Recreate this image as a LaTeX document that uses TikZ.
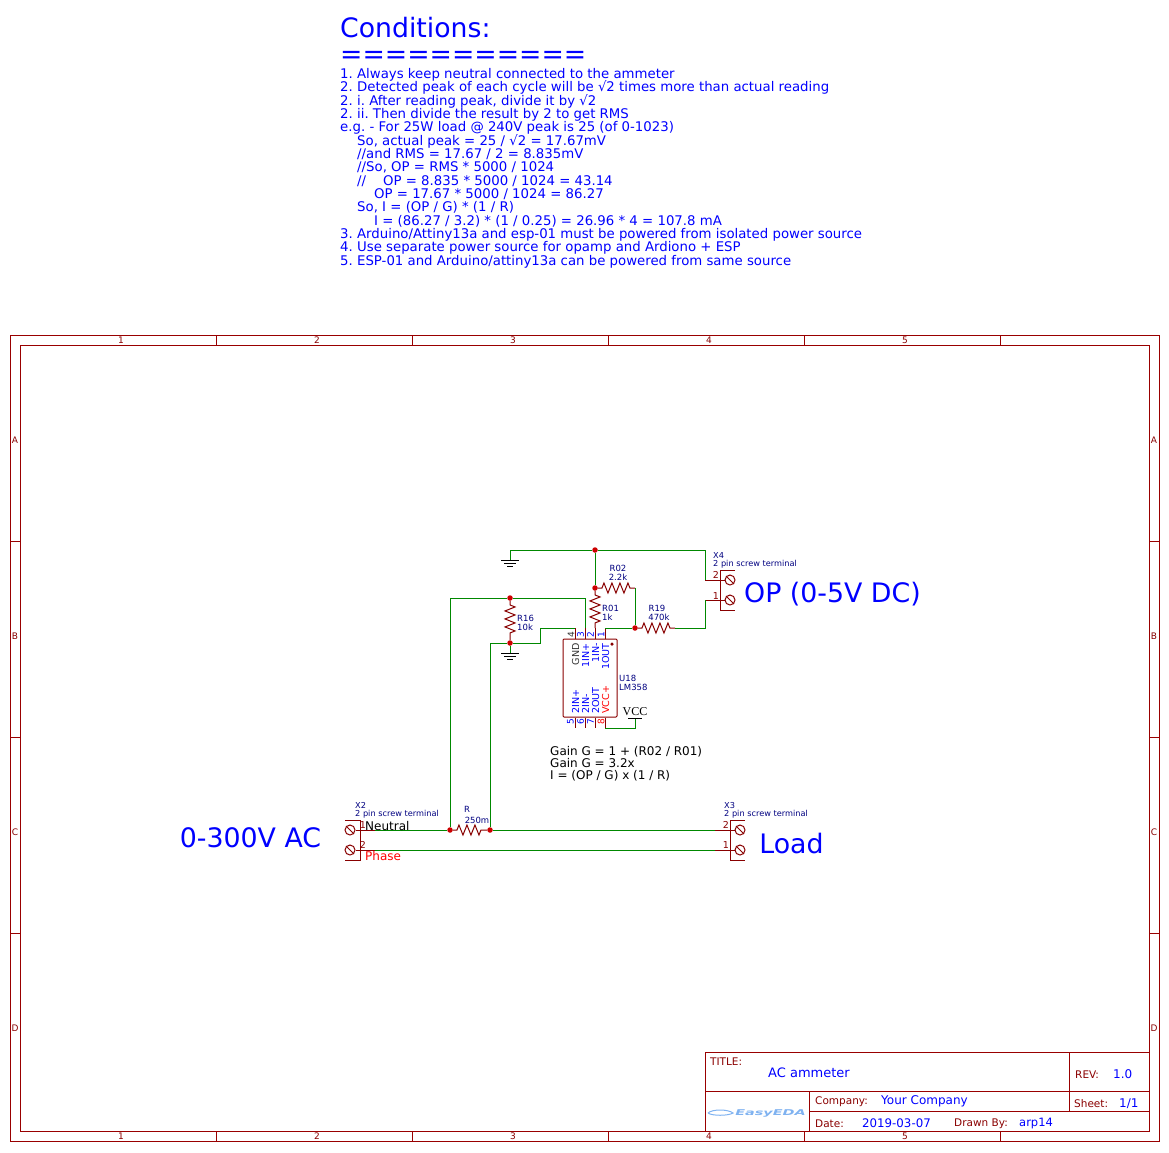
\documentclass[tikz,border=0pt]{standalone}
\usepackage{fontspec}
\setmainfont{DejaVu Sans}
\newfontfamily\vccfont{Liberation Serif}
\usepackage{xcolor}
\usepackage{tikz}
\usetikzlibrary{decorations.pathmorphing}

\definecolor{framered}{HTML}{990000}
\definecolor{pinred}{HTML}{880000}
\definecolor{wiregreen}{HTML}{008800}
\definecolor{labelblue}{HTML}{000080}
\definecolor{logoblue}{HTML}{7FB2F0}

\newcommand{\fsz}[1]{\fontsize{#1}{#1}\selectfont}
\newcommand{\tightlines}{\lineskiplimit=-100pt\relax}
\frenchspacing

\tikzset{
  wire/.style={draw=wiregreen,line width=1pt},
  pinline/.style={draw=pinred,line width=1pt},
  frameline/.style={draw=framered,line width=1pt},
  reszig/.style={draw=pinred,line width=1pt,decorate,
    decoration={zigzag,amplitude=5pt,segment length=8pt,pre length=4pt,post length=4pt}},
  dot/.style={circle,fill=red!80!black,inner sep=0pt,minimum size=5.5pt},
  screw/.style={circle,draw=pinred,line width=1pt,inner sep=0pt,minimum size=10pt},
  gridtxt/.style={text=pinred,font=\fsz{9},inner sep=0pt},
  parttxt/.style={text=labelblue,font=\fsz{8.5},inner sep=0pt,anchor=west},
  termtxt/.style={parttxt,font=\fsz{8.2}},
  pintxt/.style={text=blue,font=\fsz{9.6},inner sep=0pt,rotate=90},
  pinnum/.style={text=blue,font=\fsz{9},inner sep=0pt,rotate=90},
  numtxt/.style={text=pinred,font=\fsz{9.5},inner sep=0pt},
  bigtxt/.style={text=blue,font=\fsz{26.8},inner sep=0pt},
  blocktxt/.style={text=framered!90!black,font=\fsz{10.5},inner sep=0pt,anchor=west},
  valtxt/.style={text=blue,font=\fsz{12},inner sep=0pt,anchor=west},
}

\begin{document}
\begin{tikzpicture}[x=1pt,y=-1pt]
   \useasboundingbox (0,0) rectangle (1169,1152);

   % notes on top
   \node[text=blue,inner sep=0pt,anchor=north west,font=\fsz{26.7}] (head) at (340,17) {Conditions:};
   \node[text=blue,inner sep=0pt,anchor=north west,font=\fsz{26.7}] (rule) at (340,51) {===========};
   \node[text=blue,inner sep=0pt,anchor=north west,align=left,font=\fontsize{13.3}{13.36}\selectfont\tightlines] (notes) at (340,68) {%
     1. Always keep neutral connected to the ammeter\\
     2. Detected peak of each cycle will be √2 times more than actual reading\\
     2. i. After reading peak, divide it by √2\\
     2. ii. Then divide the result by 2 to get RMS\\
     e.g. - For 25W load @ 240V peak is 25 (of 0-1023)\\
     \hspace*{17pt}So, actual peak = 25 / √2 = 17.67mV\\
     \hspace*{17pt}//and RMS = 17.67 / 2 = 8.835mV\\
     \hspace*{17pt}//So, OP = RMS * 5000 / 1024\\
     \hspace*{17pt}//\hspace*{17pt}OP = 8.835 * 5000 / 1024 = 43.14\\
     \hspace*{34pt}OP = 17.67 * 5000 / 1024 = 86.27\\
     \hspace*{17pt}So, I = (OP / G) * (1 / R)\\
     \hspace*{34pt}I = (86.27 / 3.2) * (1 / 0.25) = 26.96 * 4 = 107.8 mA\\
     3. Arduino/Attiny13a and esp-01 must be powered from isolated power source\\
     4. Use separate power source for opamp and Ardiono + ESP\\
     5. ESP-01 and Arduino/attiny13a can be powered from same source};

   % sheet frame
   \draw[frameline] (10,335) rectangle (1159,1141);
   \draw[frameline] (20,345) rectangle (1149,1131);
   \foreach \x in {216,412,608,804,1000} {
     \draw[frameline] (\x,335) -- (\x,345);
     \draw[frameline] (\x,1131) -- (\x,1141);
   }
   \foreach \y in {541,737,933} {
     \draw[frameline] (10,\y) -- (20,\y);
     \draw[frameline] (1149,\y) -- (1159,\y);
   }
   \foreach \n [count=\i from 0] in {1,2,3,4,5} {
     \node[gridtxt] at (121+196*\i,340.5) {\n};
     \node[gridtxt] at (121+196*\i,1136.5) {\n};
   }
   \foreach \n [count=\i from 0] in {A,B,C,D} {
     \node[gridtxt] at (15,440+196*\i) {\n};
     \node[gridtxt] at (1154,440+196*\i) {\n};
   }

   % title block
   \draw[frameline] (705,1052) rectangle (1149,1131);
   \draw[frameline] (705,1091) -- (1149,1091);
   \draw[frameline] (809,1111) -- (1149,1111);
   \draw[frameline] (1069,1052) -- (1069,1111);
   \draw[frameline] (809,1091) -- (809,1131);
   \node[blocktxt] (ttl) at (710,1062) {TITLE:};
   \node[valtxt,font=\fsz{13}] (ttlval) at (768,1072.5) {AC ammeter};
   \node[blocktxt] (rev) at (1075,1075) {REV:};
   \node[valtxt] (revval) at (1113,1074) {1.0};
   \node[blocktxt] (comp) at (815,1102) {Company:};
   \node[valtxt] (compval) at (881,1101.5) {Your Company};
   \node[blocktxt] (sheet) at (1074,1104) {Sheet:};
   \node[valtxt] (sheetval) at (1119,1103.5) {1/1};
   \node[blocktxt] (date) at (815,1124) {Date:};
   \node[valtxt,font=\fsz{11.8}] (dateval) at (862,1123.5) {2019-03-07};
   \node[blocktxt] (drawn) at (954,1124) {Drawn By:};
   \node[valtxt,font=\fsz{11.5}] (drawnval) at (1019,1123.5) {arp14};
   \node[inner sep=0pt,anchor=west,text=logoblue,font=\fsz{8}\bfseries\itshape,xscale=1.8] (logo) at (735,1113) {EasyEDA};
   \draw[logoblue,line width=1pt] (708,1113) .. controls (712,1109) and (728,1109) .. (733,1113) .. controls (728,1116) and (712,1116) .. (708,1113);

   % junctions
   \node[dot] (j_top) at (595,550) {};
   \node[dot] (j_r02) at (595,588) {};
   \node[dot] (j_fb)  at (635,628) {};
   \node[dot] (j_r16) at (510,598) {};
   \node[dot] (j_low) at (510,643) {};
   \node[dot] (j_ra)  at (450,830) {};
   \node[dot] (j_rb)  at (490,830) {};

   % free ends
   \coordinate (gnd_a) at (510,560);
   \coordinate (gnd_b) at (510,653);
   \coordinate (r02_e) at (635,588);
   \coordinate (r19_e) at (675,628);
   \coordinate (r01_e) at (595,628);

   % IC
   \node[draw=pinred,line width=1pt,rounded corners=1pt,minimum width=54pt,minimum height=78pt,inner sep=0pt] (u18) at (590,678) {};
   \node[circle,fill=pinred,inner sep=0pt,minimum size=3.5pt] (u18_dot) at (612,644) {};
   \foreach \x/\i in {575/4,585/3,595/2,605/1} {
     \coordinate (p\i) at (\x,628);
     \coordinate (p\i i) at (\x,639);
     \draw[pinline] (p\i i) -- (p\i);
   }
   \foreach \x/\i in {575/5,585/6,595/7,605/8} {
     \coordinate (p\i) at (\x,728);
     \coordinate (p\i i) at (\x,718);
     \draw[pinline] (p\i i) -- (p\i);
   }
   \node[pintxt,anchor=east,text=black!80] at (575.5,643) {GND};
   \node[pintxt,anchor=east] at (585.5,643) {1IN+};
   \node[pintxt,anchor=east] at (595.5,643) {1IN-};
   \node[pintxt,anchor=east] at (605.5,643) {1OUT};
   \node[pintxt,anchor=west] at (575.5,714) {2IN+};
   \node[pintxt,anchor=west] at (585.5,714) {2IN-};
   \node[pintxt,anchor=west] at (595.5,714) {2OUT};
   \node[pintxt,anchor=west,text=red] at (605.5,714) {VCC+};
   \node[pinnum,text=black!80] at (571,634.5) {4};
   \node[pinnum] at (580.5,634.5) {3};
   \node[pinnum] at (590.5,634.5) {2};
   \node[pinnum] at (601,634.5) {1};
   \node[pinnum] at (570.5,722) {5};
   \node[pinnum] at (580.5,722) {6};
   \node[pinnum] at (590.5,722) {7};
   \node[pinnum,text=red] at (601,722) {8};
   \node[parttxt] (u18_a) at (619,678) {U18};
   \node[parttxt] (u18_b) at (619,687) {LM358};

   % resistors
   \draw[reszig] (j_r02) -- (r02_e);
   \draw[reszig] (j_r02) -- (r01_e);
   \draw[reszig] (j_fb) -- (r19_e);
   \draw[reszig] (j_r16) -- (j_low);
   \draw[reszig] (j_ra) -- (j_rb);
   \node[parttxt,anchor=center] (r02_a) at (618,568) {R02};
   \node[parttxt,anchor=center] (r02_b) at (618,577) {2.2k};
   \node[parttxt] (r01_a) at (602,608) {R01};
   \node[parttxt] (r01_b) at (602,617) {1k};
   \node[parttxt,anchor=center] (r19_a) at (657,608) {R19};
   \node[parttxt,anchor=center] (r19_b) at (659,617) {470k};
   \node[parttxt] (r16_a) at (517,618) {R16};
   \node[parttxt] (r16_b) at (517,627) {10k};
   \node[parttxt,anchor=center] (r_a) at (467,809.5) {R};
   \node[parttxt,anchor=center] (r_b) at (477,820.5) {250m};

   % terminals
   \foreach \nm/\cx/\by/\bx/\ex/\px in {xtwo/350/820/360/345/375,xthree/740/820/730/745/715,xfour/730/570/720/735/705} {
     \draw[pinline] (\ex,\by) -- (\bx,\by) -- (\bx,\by+40) -- (\ex,\by+40);
     \node[screw] (\nm_a) at (\cx,\by+10) {};
     \node[screw] (\nm_b) at (\cx,\by+30) {};
     \draw[pinline] (\nm_a.north west) -- (\nm_a.south east);
     \draw[pinline] (\nm_b.north west) -- (\nm_b.south east);
     \coordinate (\nm_pa) at (\px,\by+10);
     \coordinate (\nm_pb) at (\px,\by+30);
   }
   \draw[pinline] (xtwo_a.east) -- (xtwo_pa);
   \draw[pinline] (xtwo_b.east) -- (xtwo_pb);
   \draw[pinline] (xthree_pa) -- (xthree_a.west);
   \draw[pinline] (xthree_pb) -- (xthree_b.west);
   \draw[pinline] (xfour_pa) -- (xfour_a.west);
   \draw[pinline] (xfour_pb) -- (xfour_b.west);
   \node[numtxt] at (363,825) {1};
   \node[numtxt] at (363,845) {2};
   \node[numtxt] at (726,825) {2};
   \node[numtxt] at (726,845) {1};
   \node[numtxt] at (716,575) {2};
   \node[numtxt] at (716,596) {1};
   \node[termtxt] (x2_a) at (355,805) {X2};
   \node[termtxt] (x2_b) at (355,814.5) {2 pin screw terminal};
   \node[termtxt] (x3_a) at (724,805) {X3};
   \node[termtxt] (x3_b) at (724,814.5) {2 pin screw terminal};
   \node[termtxt] (x4_a) at (713,555) {X4};
   \node[termtxt] (x4_b) at (713,564.5) {2 pin screw terminal};

   % wires
   \draw[wire] (gnd_a) |- (j_top);
   \draw[wire] (j_top) -- (705,550) |- (xfour_pa);
   \draw[wire] (j_top) -- (j_r02);
   \draw[wire] (r02_e) -- (j_fb);
   \draw[wire] (p1) -- (j_fb);
   \draw[wire] (r19_e) -- (705,628) |- (xfour_pb);
   \draw[wire] (p3) |- (j_r16);
   \draw[wire] (j_r16) -| (j_ra);
   \draw[wire] (j_low) -- (gnd_b);
   \draw[wire] (j_rb) |- (j_low);
   \draw[wire] (j_low) -- (540,643) -- (540,628) -- (p4);
   \draw[wire] (xtwo_pa) -- (j_ra);
   \draw[wire] (j_rb) -- (xthree_pa);
   \draw[wire] (xtwo_pb) -- (xthree_pb);
   \draw[wire] (p8) -- (635,728) -- (635,719);

   % power symbols
   \foreach \c in {gnd_a,gnd_b} {
     \draw[draw=black,line width=.8pt] ([xshift=-9pt]\c) -- ([xshift=9pt]\c);
     \draw[draw=black,line width=.8pt] ([xshift=-6pt,yshift=-3pt]\c) -- ([xshift=6pt,yshift=-3pt]\c);
     \draw[draw=black,line width=.8pt] ([xshift=-3pt,yshift=-6pt]\c) -- ([xshift=3pt,yshift=-6pt]\c);
   }
   \draw[draw=black,line width=.8pt] (628,718.5) -- (642,718.5);
   \node[inner sep=0pt,font=\vccfont\fsz{12}] (vcc) at (635,712) {VCC};

   % annotation
   \node[inner sep=0pt,anchor=north west,align=left,font=\fontsize{12}{12}\selectfont] (gain) at (550,746) {Gain G = 1 + (R02 / R01)\\Gain G = 3.2x\\I = (OP / G) x (1 / R)};
   \node[inner sep=0pt,anchor=west,font=\fsz{12}] (neutral) at (365,826) {Neutral};
   \node[inner sep=0pt,anchor=west,text=red,font=\fsz{12}] (phase) at (365,856.5) {Phase};
   \node[bigtxt] (ac) at (250.5,838) {0-300V AC};
   \node[bigtxt] (load) at (791.5,843) {Load};
   \node[bigtxt] (op) at (832.5,594) {OP (0-5V DC)};
\end{tikzpicture}
\end{document}
